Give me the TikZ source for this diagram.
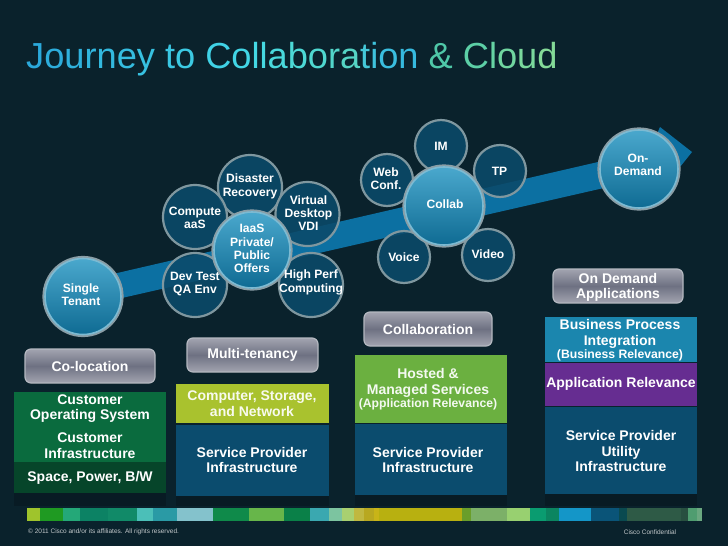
\documentclass[tikz,border=0pt]{standalone}
\usepackage{fontspec}
\setmainfont{Liberation Sans}
\definecolor{bgc}{HTML}{0A222C}
\definecolor{bandc}{HTML}{0C70A2}
\definecolor{smallc}{HTML}{0B4A6A}
\definecolor{ringc}{HTML}{7F979F}
\definecolor{bigt}{HTML}{4BA9CE}
\definecolor{bigb}{HTML}{0E6A92}
\definecolor{bigr}{HTML}{8A9EA6}
\definecolor{bigi}{HTML}{7CBAD2}
\definecolor{greenA}{HTML}{0A6B3E}
\definecolor{greenB}{HTML}{06452A}
\definecolor{limec}{HTML}{A9C22E}
\definecolor{navyc}{HTML}{0B4C6E}
\definecolor{grassc}{HTML}{6BB040}
\definecolor{tealc}{HTML}{1B86AE}
\definecolor{purplec}{HTML}{662D91}
\definecolor{pillt}{HTML}{A2A4B0}
\definecolor{pillm}{HTML}{6E7182}
\definecolor{pillr}{HTML}{B4B8C0}
\newcommand{\tl}[2]{\textcolor[HTML]{#1}{#2}}
\newcommand{\seg}[3]{\definecolor{segc}{HTML}{#3}\fill[segc] (#1,508) rectangle (#2,521);}
\tikzset{
  x=1pt,y=-1pt,
  txt/.style={text=white,align=center,inner sep=0pt,font=\bfseries\fontsize{12.1}{13.3}\selectfont},
  smalltxt/.style={text=white,align=center,inner sep=0pt,font=\bfseries\fontsize{12.2}{13}\selectfont},
  blocktxt/.style={text=white,align=center,inner sep=0pt,font=\bfseries\fontsize{14}{15.6}\selectfont},
  smallcirc/.style={circle,draw=ringc,line width=2.2pt,fill=smallc,fill opacity=.88,inner sep=0pt,minimum size=#1},
  bigcirc/.style={circle,draw=bigr,line width=2.2pt,top color=bigt,bottom color=bigb,inner sep=0pt,minimum size=#1},
  innerring/.style={draw=bigi,line width=1.6pt},
  pill/.style={rounded corners=6pt,draw=pillr,line width=1.2pt,top color=pillt,bottom color=pillt,middle color=pillm,inner sep=0pt},
  shadowbox/.style={fill=black,fill opacity=.18,draw=none}
}
\begin{document}
\begin{tikzpicture}
\useasboundingbox (0,0) rectangle (728,546);
\fill[bgc] (0,0) rectangle (728,546);

% title
\node[anchor=base west,inner sep=0pt,font=\fontsize{36.2}{38}\selectfont] (title) at (26,68) {%
\tl{2BA9DB}{J}\tl{2DADDC}{o}\tl{2FB1DD}{u}\tl{31B5DE}{r}\tl{33B9DF}{n}\tl{35BDE0}{e}\tl{37C1E1}{y} \tl{3AC6E2}{t}\tl{3CCAE3}{o} \tl{40D2E6}{C}\tl{42D6E6}{o}\tl{44D8E4}{l}\tl{46D8E0}{l}\tl{49D9DC}{a}\tl{4CD9D6}{b}\tl{4FD8D0}{o}\tl{52D6CA}{r}\tl{55D4C4}{a}\tl{44C8D8}{t}\tl{3FC2DC}{i}\tl{3ABEDF}{o}\tl{36BADF}{n} \tl{4FC8A8}{\&} \tl{5CCFA6}{C}\tl{66D3A3}{l}\tl{70D6A0}{o}\tl{7AD89C}{u}\tl{84DA98}{d}};

% band
\fill[bandc] (100,277) -- (650,150) -- (660,127) -- (692,152) -- (660,192) -- (652,177) -- (100,303) -- cycle;

% small circles
\node[smallcirc=64pt] (cDR) at (250,187) {};
\node[smallcirc=64pt] (cCA) at (195,217) {};
\node[smallcirc=64pt] (cVD) at (307.5,214) {};
\node[smallcirc=64pt] (cDT) at (195,285) {};
\node[smallcirc=64pt] (cHP) at (311,285) {};
\node[smallcirc=52pt] (cIM) at (441,146) {};
\node[smallcirc=52pt] (cWC) at (387,180) {};
\node[smallcirc=52pt] (cTP) at (500,171) {};
\node[smallcirc=52pt] (cVO) at (404,257) {};
\node[smallcirc=52pt] (cVI) at (488,255) {};

% big circles
\node[bigcirc=79pt] (cST) at (83,296.5) {};
\node[bigcirc=79pt] (cIS) at (252,250) {};
\node[bigcirc=81pt] (cCO) at (444,206) {};
\node[bigcirc=81pt] (cOD) at (639,169) {};
\draw[innerring] (cST.center) circle (38);
\draw[innerring] (cIS.center) circle (38);
\draw[innerring] (cCO.center) circle (39);
\draw[innerring] (cOD.center) circle (39);

% circle labels
\node[txt] (tST) at (81,294.5) {Single\\Tenant};
\node[txt] (tDR) at (250,186.5) {Disaster\\Recovery};
\node[txt] (tCA) at (195,217.5) {Compute\\aaS};
\node[txt] (tVD) at (308.5,213) {Virtual\\Desktop\\VDI};
\node[txt] (tIS) at (252,248.5) {IaaS\\Private/\\Public\\Offers};
\node[txt] (tDT) at (195,284) {Dev Test\\QA Env};
\node[txt] (tHP) at (311,282.5) {High Perf\\Computing};
\node[txt] (tWC) at (386,178.5) {Web\\Conf.};
\node[txt] (tIM) at (441,146) {IM};
\node[txt] (tTP) at (499.5,171) {TP};
\node[txt] (tCO) at (445,204) {Collab};
\node[txt] (tVO) at (404,257) {Voice};
\node[txt] (tVI) at (488,254) {Video};
\node[txt] (tOD) at (638,164.5) {On-\\Demand};

% pills
\node[pill,minimum width=130pt,minimum height=34pt,blocktxt] (pCL) at (90,366) {Co-location};
\node[pill,minimum width=131pt,minimum height=34pt,blocktxt] (pMT) at (252.5,355) {Multi-tenancy};
\node[pill,minimum width=128pt,minimum height=34pt,blocktxt] (pCB) at (428,329) {Collaboration};
\node[pill,minimum width=130pt,minimum height=34pt,blocktxt] (pOD) at (618,286) {};
\node[blocktxt] (tpOD) at (618,287.5) {On Demand\\Applications};

% faint reflections under the stacks
\fill[shadowbox] (14,493) rectangle (166,506);
\fill[shadowbox] (176,496) rectangle (329,506);
\fill[shadowbox] (355,495) rectangle (507,506);
\fill[shadowbox] (545,494) rectangle (697,506);

% column 1
\fill[greenA] (14,392) rectangle (166,462);
\fill[greenB] (14,462) rectangle (166,493);
\node[blocktxt] (b1a) at (90,408.5) {Customer\\Operating System};
\node[blocktxt] (b1b) at (90,445.5) {Customer\\Infrastructure};
\node[blocktxt] (b1c) at (90,478) {Space, Power, B/W};

% column 2
\fill[limec] (176,384) rectangle (329,423);
\fill[navyc] (176,425) rectangle (329,496);
\node[blocktxt,text=white!92!limec] (b2a) at (252,403.5) {Computer, Storage,\\and Network};
\node[blocktxt] (b2b) at (252,460) {Service Provider\\Infrastructure};

% column 3
\fill[grassc] (355,355) rectangle (507,423);
\fill[navyc] (355,424) rectangle (507,495);
\node[blocktxt,text=white!92!grassc] (b3a) at (428,383) {Hosted \&\\Managed Services};
\node[smalltxt,text=white!92!grassc] (b3b) at (428,404.5) {(Application Relevance)};
\node[blocktxt] (b3c) at (428,460) {Service Provider\\Infrastructure};

% column 4
\fill[tealc] (545,317) rectangle (697,362);
\fill[purplec] (545,363) rectangle (697,406);
\fill[navyc] (545,407) rectangle (697,494);
\node[blocktxt] (b4a) at (620,334) {Business Process\\Integration};
\node[smalltxt] (b4b) at (620,355.5) {(Business Relevance)};
\node[blocktxt] (b4c) at (621,384) {Application Relevance};
\node[blocktxt] (b4d) at (621,451) {Service Provider\\Utility\\Infrastructure};

% colour strip
\seg{27}{40}{9FC42C}\seg{40}{63}{1F9A22}\seg{63}{80}{24A878}\seg{80}{108}{0C8264}\seg{108}{137}{118A68}
\seg{137}{153}{4BBFB8}\seg{153}{177}{2A9AA5}\seg{177}{213}{84C2CC}\seg{213}{249}{0F8A4A}\seg{249}{284}{67B64A}
\seg{284}{310}{0A8048}\seg{310}{329}{3AA8B0}\seg{329}{342}{7CC4A0}\seg{342}{354}{A8D070}\seg{354}{364}{C0B840}
\seg{364}{374}{B8A820}\seg{374}{379}{C8B418}\seg{379}{462}{B8B010}\seg{462}{471}{6A9E2A}\seg{471}{507}{7CB068}
\seg{507}{530}{98D070}\seg{530}{546}{0A9C70}\seg{546}{559}{0B8560}\seg{559}{591}{1496C8}\seg{591}{619}{0A5478}
\seg{619}{627}{0A4A50}\seg{627}{681}{2E5A46}\seg{681}{688}{285040}\seg{688}{697}{4F9D70}\seg{697}{702}{6AA880}

% footer
\node[anchor=west,inner sep=0pt,text=white!75!bgc,font=\fontsize{6.5}{7}\selectfont] (fl) at (28,532) {© 2011 Cisco and/or its affiliates. All rights reserved.};
\node[inner sep=0pt,text=white!75!bgc,font=\fontsize{6.5}{7}\selectfont] (fr) at (650,532) {Cisco Confidential};
\end{tikzpicture}
\end{document}
